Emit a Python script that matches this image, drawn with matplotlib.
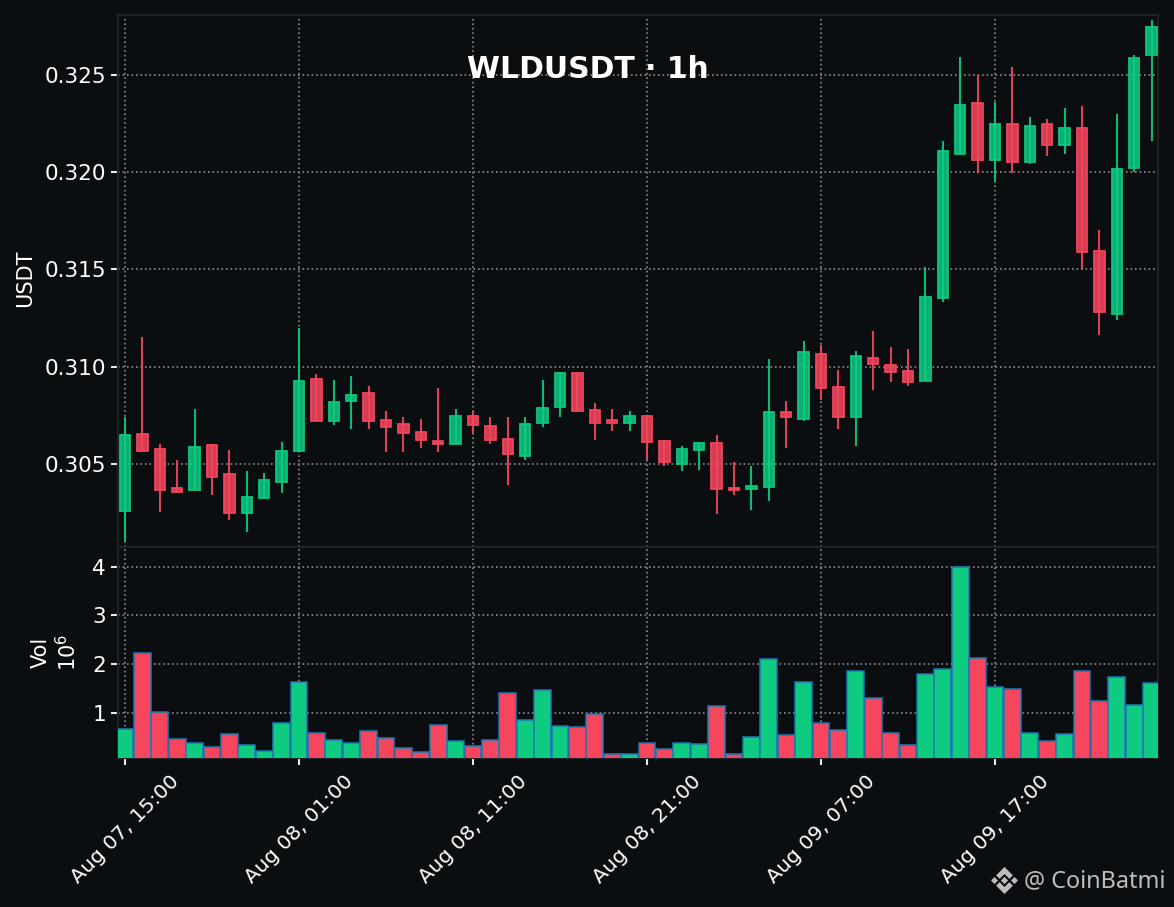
import matplotlib
matplotlib.use('Agg')
import matplotlib.pyplot as plt
from matplotlib.colors import to_rgba
from matplotlib.patches import Polygon

opens = [.30258, .30654, .30577, .30377, .30366, .30598, .30449, .30248, .30325, .30407,
         .30567, .30937, .30721, .30824, .30865, .30726, .30706, .30665, .30618, .30603,
         .30747, .30695, .30629, .30541, .30711, .30793, .30968, .30778, .30726, .30711,
         .30747, .30618, .30500, .30572, .30608, .30377, .30371, .30382, .30767, .30731,
         .31066, .30896, .30742, .31045, .31009, .30978, .30927, .31353, .32093, .32356,
         .32063, .32248, .32052, .32248, .32140, .32227, .31595, .31271, .32021, .32602]
highs = [.30742, .31153, .30603, .30521, .30783, .30603, .30572, .30464, .30454, .30613,
         .31200, .30963, .30932, .30953, .30901, .30773, .30742, .30731, .30891, .30783,
         .30773, .30742, .30742, .30742, .30932, .30973, .30973, .30814, .30783, .30773,
         .30747, .30623, .30593, .30613, .30649, .30510, .30490, .31040, .30824, .31133,
         .31112, .30984, .31081, .31184, .31102, .31091, .31513, .32160, .32592, .32499,
         .32361, .32541, .32284, .32273, .32330, .32340, .31703, .32299, .32602, .32782]
lows = [.30099, .30567, .30253, .30351, .30366, .30341, .30212, .30150, .30325, .30351,
        .30567, .30721, .30701, .30680, .30680, .30562, .30562, .30582, .30562, .30603,
        .30659, .30603, .30392, .30521, .30690, .30742, .30773, .30623, .30670, .30670,
        .30521, .30490, .30464, .30469, .30243, .30341, .30263, .30310, .30582, .30721,
        .30829, .30680, .30593, .30880, .30921, .30901, .30927, .31333, .32093, .31996,
        .31950, .31996, .32042, .32083, .32093, .31502, .31163, .31240, .32000, .32160]
closes = [.30649, .30567, .30366, .30356, .30587, .30433, .30248, .30330, .30418, .30567,
          .30927, .30721, .30819, .30855, .30721, .30690, .30659, .30623, .30603, .30747,
          .30701, .30623, .30551, .30706, .30788, .30968, .30773, .30711, .30711, .30747,
          .30613, .30510, .30577, .30608, .30371, .30366, .30387, .30767, .30742, .31076,
          .30891, .30742, .31055, .31014, .30973, .30921, .31358, .32109, .32345, .32063,
          .32248, .32052, .32237, .32140, .32227, .31590, .31281, .32016, .32587, .32746]
# volume in millions
volumes = [.68, 2.22, 1.01, .475, .39, .31, .56, .35, .23, .80,
           1.64, .60, .455, .39, .64, .495, .29, .21, .76, .43,
           .32, .44, 1.40, .85, 1.47, .73, .71, .97, .17, .17,
           .38, .26, .38, .36, 1.14, .17, .50, 2.10, .54, 1.63,
           .80, .66, 1.87, 1.30, .58, .35, 1.79, 1.91, 4.00, 2.12,
           1.54, 1.50, .60, .43, .56, 1.87, 1.25, 1.73, 1.17, 1.62]
tick_labels = ['Aug 07, 15:00', 'Aug 08, 01:00', 'Aug 08, 11:00',
               'Aug 08, 21:00', 'Aug 09, 07:00', 'Aug 09, 17:00']
price_ticks = [0.305, 0.310, 0.315, 0.320, 0.325]
vol_ticks = [1, 2, 3, 4]

BG = '#0b0e11'
GREEN = '#0ecb81'
RED = '#f6465d'
W, H = 1174, 907
FS = 15.6

fig = plt.figure(figsize=(W / 100, H / 100), dpi=100, facecolor=BG)
ax1 = fig.add_axes([118 / W, (H - 547) / H, 1040 / W, 532 / H], facecolor=BG)
ax2 = fig.add_axes([118 / W, (H - 758) / H, 1040 / W, 211 / H], facecolor=BG, sharex=ax1)

xs = list(range(len(opens)))
colors = [GREEN if c >= o else RED for o, c in zip(opens, closes)]

ax1.vlines(xs, lows, highs, colors=colors, linewidth=1.5, alpha=0.9, zorder=3)
ax1.bar(xs, [c - o for o, c in zip(opens, closes)], bottom=opens, width=0.6,
        color=[to_rgba(c, 0.86) for c in colors], edgecolor=[to_rgba(c, 0.95) for c in colors],
        linewidth=1.3, zorder=4)
ax2.bar(xs, volumes, width=0.97, color=colors, edgecolor='#1f77b4', linewidth=1.1, zorder=3)

ax1.set_ylim(0.30073, 0.32808)
ax2.set_ylim(0.078, 4.40)
ax1.set_xlim(-0.40, 59.37)
ax1.set_yticks(price_ticks)
ax1.set_yticklabels(['%.3f' % p for p in price_ticks])
ax2.set_yticks(vol_ticks)
ax2.set_xticks(xs[::10])
ax2.set_xticklabels(tick_labels, rotation=45, ha='center')
ax1.tick_params(axis='x', bottom=False, labelbottom=False)
ax1.set_ylabel('USDT', color='white', fontsize=FS - 0.6, labelpad=7, y=0.505)
ax2.set_ylabel('Vol\n$10^{6}$', color='white', fontsize=FS - 0.6, labelpad=9)

for ax in (ax1, ax2):
    ax.grid(True, color='#8a8a8a', linewidth=1.2, linestyle=(0, (1, 1.7)), zorder=1)
    ax.set_axisbelow(True)
    ax.tick_params(colors='white', labelsize=FS, length=5, width=1.5, color='#e8e8e8', pad=3.5)
    for s in ax.spines.values():
        s.set_color('#1e2227')
        s.set_linewidth(1.6)
ax2.tick_params(axis='x', labelsize=14.7, pad=5)

fig.text(588 / W, (H - 69) / H, 'WLDUSDT · 1h', color='white', fontsize=21.5,
         fontweight='bold', ha='center', va='center')

# watermark
fig.text(1024 / W, (H - 881) / H, '@ CoinBatmi', color='#bdbdbd', fontsize=16.9,
         family='Noto Sans', ha='left', va='center')
logo = fig.add_axes([991 / W, (H - 894) / H, 27 / W, 27 / H])
logo.set_xlim(-1, 1)
logo.set_ylim(-1, 1)
logo.axis('off')
logo_shapes = [
    [(0, 0.27), (0.27, 0), (0, -0.27), (-0.27, 0)],
    [(-1, 0), (-0.74, 0.26), (-0.48, 0), (-0.74, -0.26)],
    [(1, 0), (0.74, 0.26), (0.48, 0), (0.74, -0.26)],
    [(0, 1), (0.62, 0.38), (0.36, 0.12), (0, 0.48), (-0.36, 0.12), (-0.62, 0.38)],
    [(0, -1), (0.62, -0.38), (0.36, -0.12), (0, -0.48), (-0.36, -0.12), (-0.62, -0.38)],
]
for shape in logo_shapes:
    logo.add_patch(Polygon(shape, closed=True, color='#bdbdbd', linewidth=0))

fig.savefig('out.png', dpi=100, facecolor=BG)
